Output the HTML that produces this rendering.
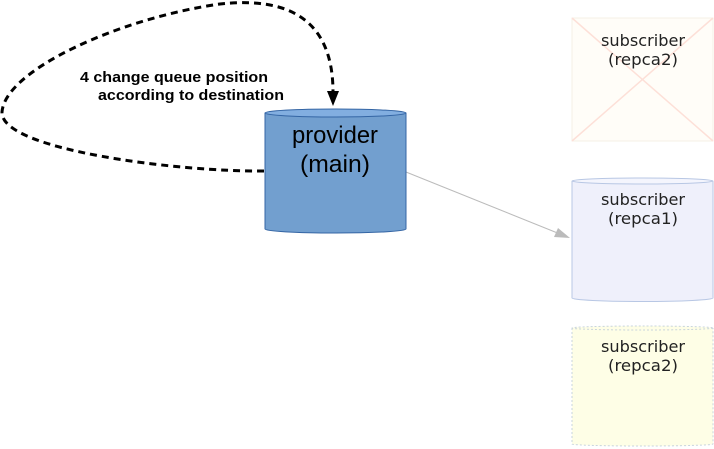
<!DOCTYPE html>
<html><head><style>body{margin:0;background:#fff;}svg{display:block}</style></head><body>
<svg width="714" height="449" xmlns="http://www.w3.org/2000/svg" font-family="Liberation Sans, DejaVu Sans, sans-serif">
<path d="M264,171 C180,172 0,150 2,112 C5,70 120,18 220,4 C310,-6 333,40 333,92" fill="none" stroke="#000" stroke-width="3" stroke-dasharray="7,5"/>
<polygon points="327,91 339,91 333,106" fill="#000"/>
<text x="80" y="82" font-size="15" font-weight="bold" textLength="188" lengthAdjust="spacingAndGlyphs">4 change queue position</text>
<text x="98" y="100" font-size="15" font-weight="bold" textLength="186" lengthAdjust="spacingAndGlyphs">according to destination</text>
<line x1="406" y1="172" x2="560" y2="234" stroke="#bbb" stroke-width="1"/>
<polygon points="570,238 554,237 558,228" fill="#bbb"/>
<path d="M265,113 L265,229 A70.5,4 0 0 0 406,229 L406,113" fill="#729fcf" stroke="#3465a4"/>
<ellipse cx="335.5" cy="113" rx="70.5" ry="4" fill="#82aee0" stroke="#3465a4"/>
<text x="292" y="143" font-size="24" textLength="86" lengthAdjust="spacingAndGlyphs">provider</text>
<text x="300" y="172" font-size="24" textLength="70" lengthAdjust="spacingAndGlyphs">(main)</text>
<rect x="572" y="18" width="141" height="123" fill="#fffdf8" stroke="#f5f0e6"/>
<line x1="572" y1="18" x2="713" y2="141" stroke="#fde0d8" stroke-width="1.5"/>
<line x1="713" y1="18" x2="572" y2="141" stroke="#fde0d8" stroke-width="1.5"/>
<path d="M572,181 L572,298 A70.5,3.5 0 0 0 713,298 L713,181" fill="#eff0fb" stroke="#b8c7e4"/>
<ellipse cx="642.5" cy="181" rx="70.5" ry="3" fill="#f4f5fd" stroke="#b8c7e4"/>
<path d="M572,328 L572,444 A70.5,2 0 0 0 713,444 L713,328" fill="#fefee6" stroke="#c8d4dc" stroke-dasharray="2,2"/>
<ellipse cx="642.5" cy="328" rx="70.5" ry="2" fill="#fefee6" stroke="#c8d4dc" stroke-dasharray="2,2"/>
<g font-size="16" fill="#222" font-family="DejaVu Sans, sans-serif">
<text x="601" y="46" textLength="84" lengthAdjust="spacingAndGlyphs">subscriber</text>
<text x="608" y="65" textLength="70" lengthAdjust="spacingAndGlyphs">(repca2)</text>
<text x="601" y="205" textLength="84" lengthAdjust="spacingAndGlyphs">subscriber</text>
<text x="608" y="224" textLength="70" lengthAdjust="spacingAndGlyphs">(repca1)</text>
<text x="601" y="352" textLength="84" lengthAdjust="spacingAndGlyphs">subscriber</text>
<text x="608" y="371" textLength="70" lengthAdjust="spacingAndGlyphs">(repca2)</text>
</g>
</svg>
</body></html>
